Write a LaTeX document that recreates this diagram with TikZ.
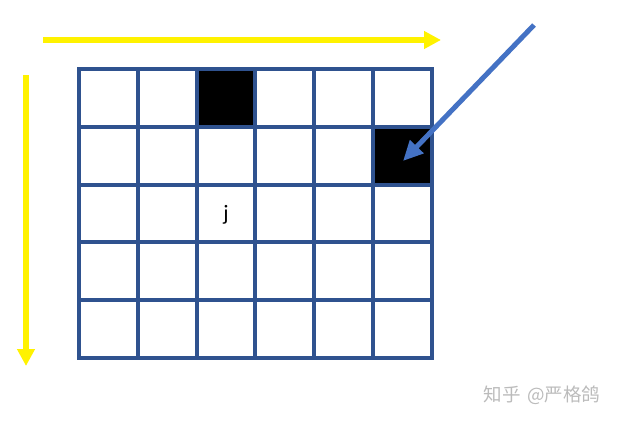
\documentclass[tikz,border=0pt]{standalone}
\usepackage{fontspec}
\setmainfont{Carlito}
\newfontfamily\cjkfont{Noto Sans CJK SC}
\usetikzlibrary{arrows.meta}
\definecolor{gridblue}{HTML}{2F528F}
\definecolor{arrowblue}{HTML}{4472C4}
\definecolor{wmgray}{HTML}{BBBBBB}
\tikzset{
  gridline/.style={draw=gridblue, line width=4pt},
  filledcell/.style={fill=black},
  yellowarrow/.style={draw=yellow, line width=6pt, -{Triangle[length=17pt,width=17pt]}},
  bluearrow/.style={draw=arrowblue, line width=5pt, -{Triangle[length=20pt,width=18pt]}},
  celltext/.style={font=\fontsize{22}{26}\selectfont, text=black},
  watermark/.style={font=\cjkfont\fontsize{18.5}{22}\selectfont, text=wmgray}
}
\begin{document}
\begin{tikzpicture}[x=1pt,y=-1pt]
\useasboundingbox (0,0) rectangle (617,420);
\def\gx{79}\def\gy{69}\def\cw{58.83}\def\ch{57.8}
% black cells
\fill[filledcell] (\gx+2*\cw,\gy) rectangle (\gx+3*\cw,\gy+\ch);
\fill[filledcell] (\gx+5*\cw,\gy+\ch) rectangle (\gx+6*\cw,\gy+2*\ch);
% grid lines
\foreach \i in {0,...,6} {
  \draw[gridline] (\gx+\i*\cw,\gy) -- (\gx+\i*\cw,\gy+5*\ch);
}
\foreach \j in {0,...,5} {
  \draw[gridline] (\gx,\gy+\j*\ch) -- (\gx+6*\cw,\gy+\j*\ch);
}
\draw[gridline, line cap=rect] (\gx,\gy) rectangle (\gx+6*\cw,\gy+5*\ch);
% label
\node[celltext] (j) at (226,215) {j};
% arrows
\coordinate (hstart) at (43,40);
\coordinate (hend) at (441,40);
\draw[yellowarrow] (hstart) -- (hend);
\coordinate (vstart) at (26,75);
\coordinate (vend) at (26,366);
\draw[yellowarrow] (vstart) -- (vend);
\coordinate (bstart) at (534,25);
\coordinate (bend) at (403,161);
\draw[bluearrow] (bstart) -- (bend);
% watermark
\node[watermark, anchor=west] (wm) at (480,395) {知乎\hspace{0.35em}@严格鸽};
\end{tikzpicture}
\end{document}
